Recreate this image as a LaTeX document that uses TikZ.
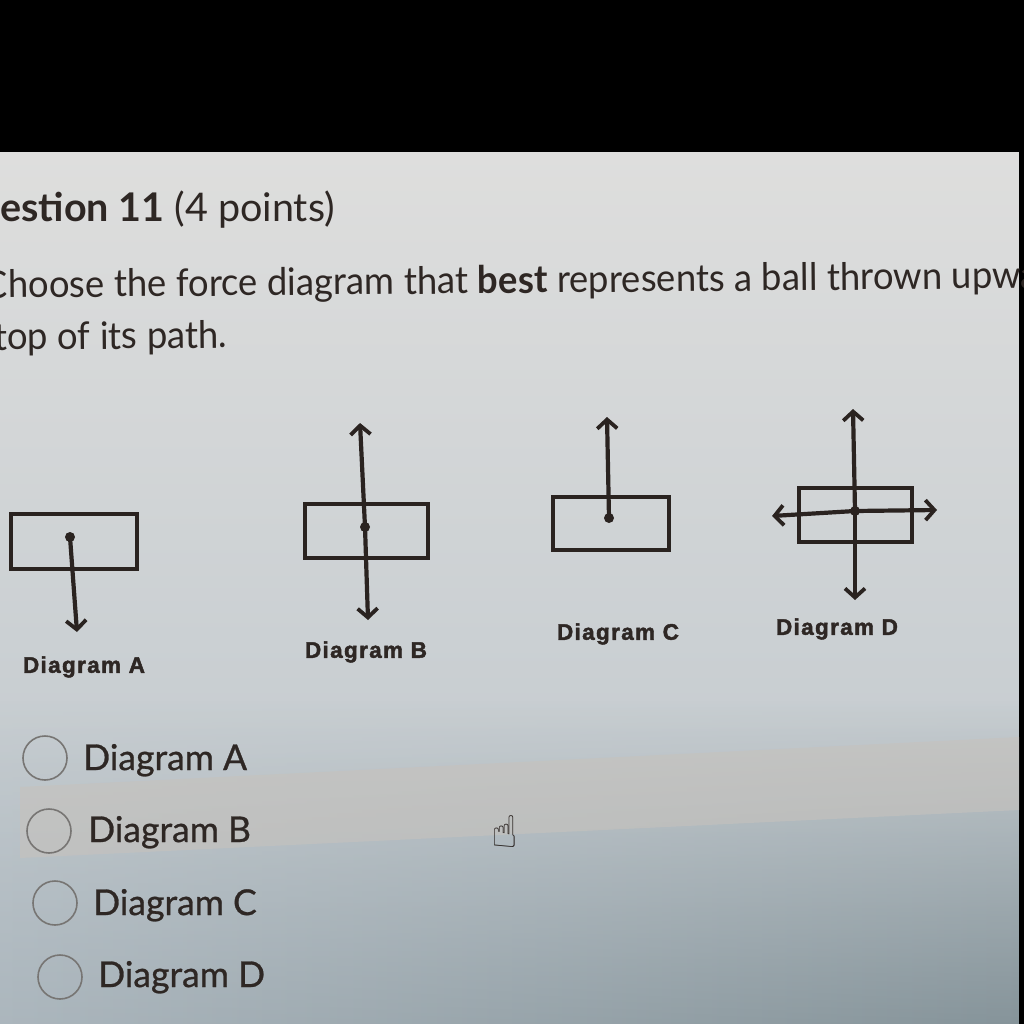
\documentclass[tikz,border=0pt]{standalone}
\usepackage{fontspec}
\setmainfont{Lato}
\newfontfamily\labfont[LetterSpace=6, FakeBold=2, UprightFont=* Bold]{Liberation Sans}
\newfontfamily\optfont[FakeBold=0.8]{Lato}
\newfontfamily\symfont{DejaVu Sans}
\usetikzlibrary{arrows.meta,fadings}
\definecolor{ink}{HTML}{2A2320}
\definecolor{txt}{HTML}{2E2724}
\definecolor{scrA}{HTML}{DEDEDD}
\definecolor{scrM}{HTML}{D8DBDD}
\definecolor{scrB}{HTML}{BCC5CB}
\definecolor{lowL}{HTML}{A9B4BB}
\definecolor{lowM}{HTML}{C4CACE}
\definecolor{lowR}{HTML}{7C8B91}
\definecolor{band}{HTML}{C6C2BD}
\definecolor{radiogray}{HTML}{777573}
\tikzset{
  fbox/.style={draw=ink, line width=3.2, rectangle, inner sep=0},
  force/.style={draw=ink, line width=4.2, -{Straight Barb[length=9,width=20,line width=3.8]}},
  fdot/.style={circle, fill=ink, inner sep=0, minimum size=10},
  dlabel/.style={inner sep=0, text=txt, font=\labfont\fontsize{22.5}{24}\selectfont},
  qtext/.style={inner sep=0, anchor=base west, text=txt},
  radio/.style={circle, draw=radiogray, line width=1.6, minimum size=44, inner sep=0},
  opt/.style={inner sep=0, anchor=base west, text=txt, font=\optfont\fontsize{35.5}{40}\selectfont},
}
\begin{document}
\begin{tikzpicture}[x=1pt,y=-1pt]
\useasboundingbox (0,0) rectangle (1024,1024);
\begin{scope}
\clip (0,0) rectangle (1024,1024);
% screen
\shade[top color=scrA, middle color=scrM, bottom color=scrB] (0,152) rectangle (1024,1024);
\shade[left color=lowL, middle color=lowM, right color=lowR, path fading=north, opacity=0.85] (0,700) rectangle (1024,1024);
\fill[black] (0,0) rectangle (1024,152);
\fill[black] (1019,152) rectangle (1024,1024);
% highlight band
\fill[band, opacity=0.6] (20,787) -- (1019,737) -- (1019,810) -- (20,858) -- cycle;

% question text
\node[qtext, font=\fontsize{39.5}{44}\selectfont] (q1) at (0,222) {\textbf{estion 11} (4 points)};
\node[qtext, rotate=0.55, xscale=0.96, font=\fontsize{38}{44}\selectfont] (q2) at (8,298) {\llap{C}hoose the force diagram that \textbf{best} represents a ball thrown upwa};
\node[qtext, rotate=0.55, xscale=0.96, font=\fontsize{38}{44}\selectfont] (q3) at (7,350) {\llap{t}op of its path.};

% Diagram A
\node[fbox, minimum width=126, minimum height=55] (Abox) at (74,541.5) {};
\coordinate (A0) at (70,537);
\coordinate (Adown) at (77,632);
\draw[force] (A0) -- (Adown);
\node[fdot] (Adot) at (A0) {};
\node[dlabel] (Alab) at (84,667) {Diagram A};

% Diagram B
\node[fbox, minimum width=123, minimum height=54] (Bbox) at (366.5,531) {};
\coordinate (B0) at (365,527);
\coordinate (Bup) at (360,423);
\coordinate (Bdown) at (368,620);
\draw[force] (B0) -- (Bup);
\draw[force] (B0) -- (Bdown);
\node[fdot] (Bdot) at (B0) {};
\node[dlabel] (Blab) at (366,652) {Diagram B};

% Diagram C
\node[fbox, minimum width=116, minimum height=53] (Cbox) at (611,523.5) {};
\coordinate (C0) at (609,518);
\coordinate (Cup) at (607,417);
\draw[force] (C0) -- (Cup);
\node[fdot] (Cdot) at (C0) {};
\node[dlabel] (Clab) at (618,634) {Diagram C};

% Diagram D
\node[fbox, minimum width=113, minimum height=54] (Dbox) at (855.5,515) {};
\coordinate (D0) at (855,511);
\coordinate (Dup) at (853,409);
\coordinate (Ddown) at (855,600);
\coordinate (Dleft) at (772,516);
\coordinate (Dright) at (937,510);
\draw[force] (D0) -- (Dup);
\draw[force] (D0) -- (Ddown);
\draw[force] (D0) -- (Dleft);
\draw[force] (D0) -- (Dright);
\node[fdot] (Ddot) at (D0) {};
\node[dlabel] (Dlab) at (837,629) {Diagram D};

% options
\node[radio] (rA) at (45,758) {};
\node[opt] (oA) at (83,770) {Diagram A};
\node[radio] (rB) at (49,831) {};
\node[opt] (oB) at (88,842) {Diagram B};
\node[radio] (rC) at (55,903) {};
\node[opt] (oC) at (93,915) {Diagram C};
\node[radio] (rD) at (60,977) {};
\node[opt] (oD) at (98,987) {Diagram D};

% cursor
\node[inner sep=0, text=ink, font=\symfont\fontsize{44}{44}\selectfont] (cursor) at (505,832) {☝};
\end{scope}
\end{tikzpicture}
\end{document}
